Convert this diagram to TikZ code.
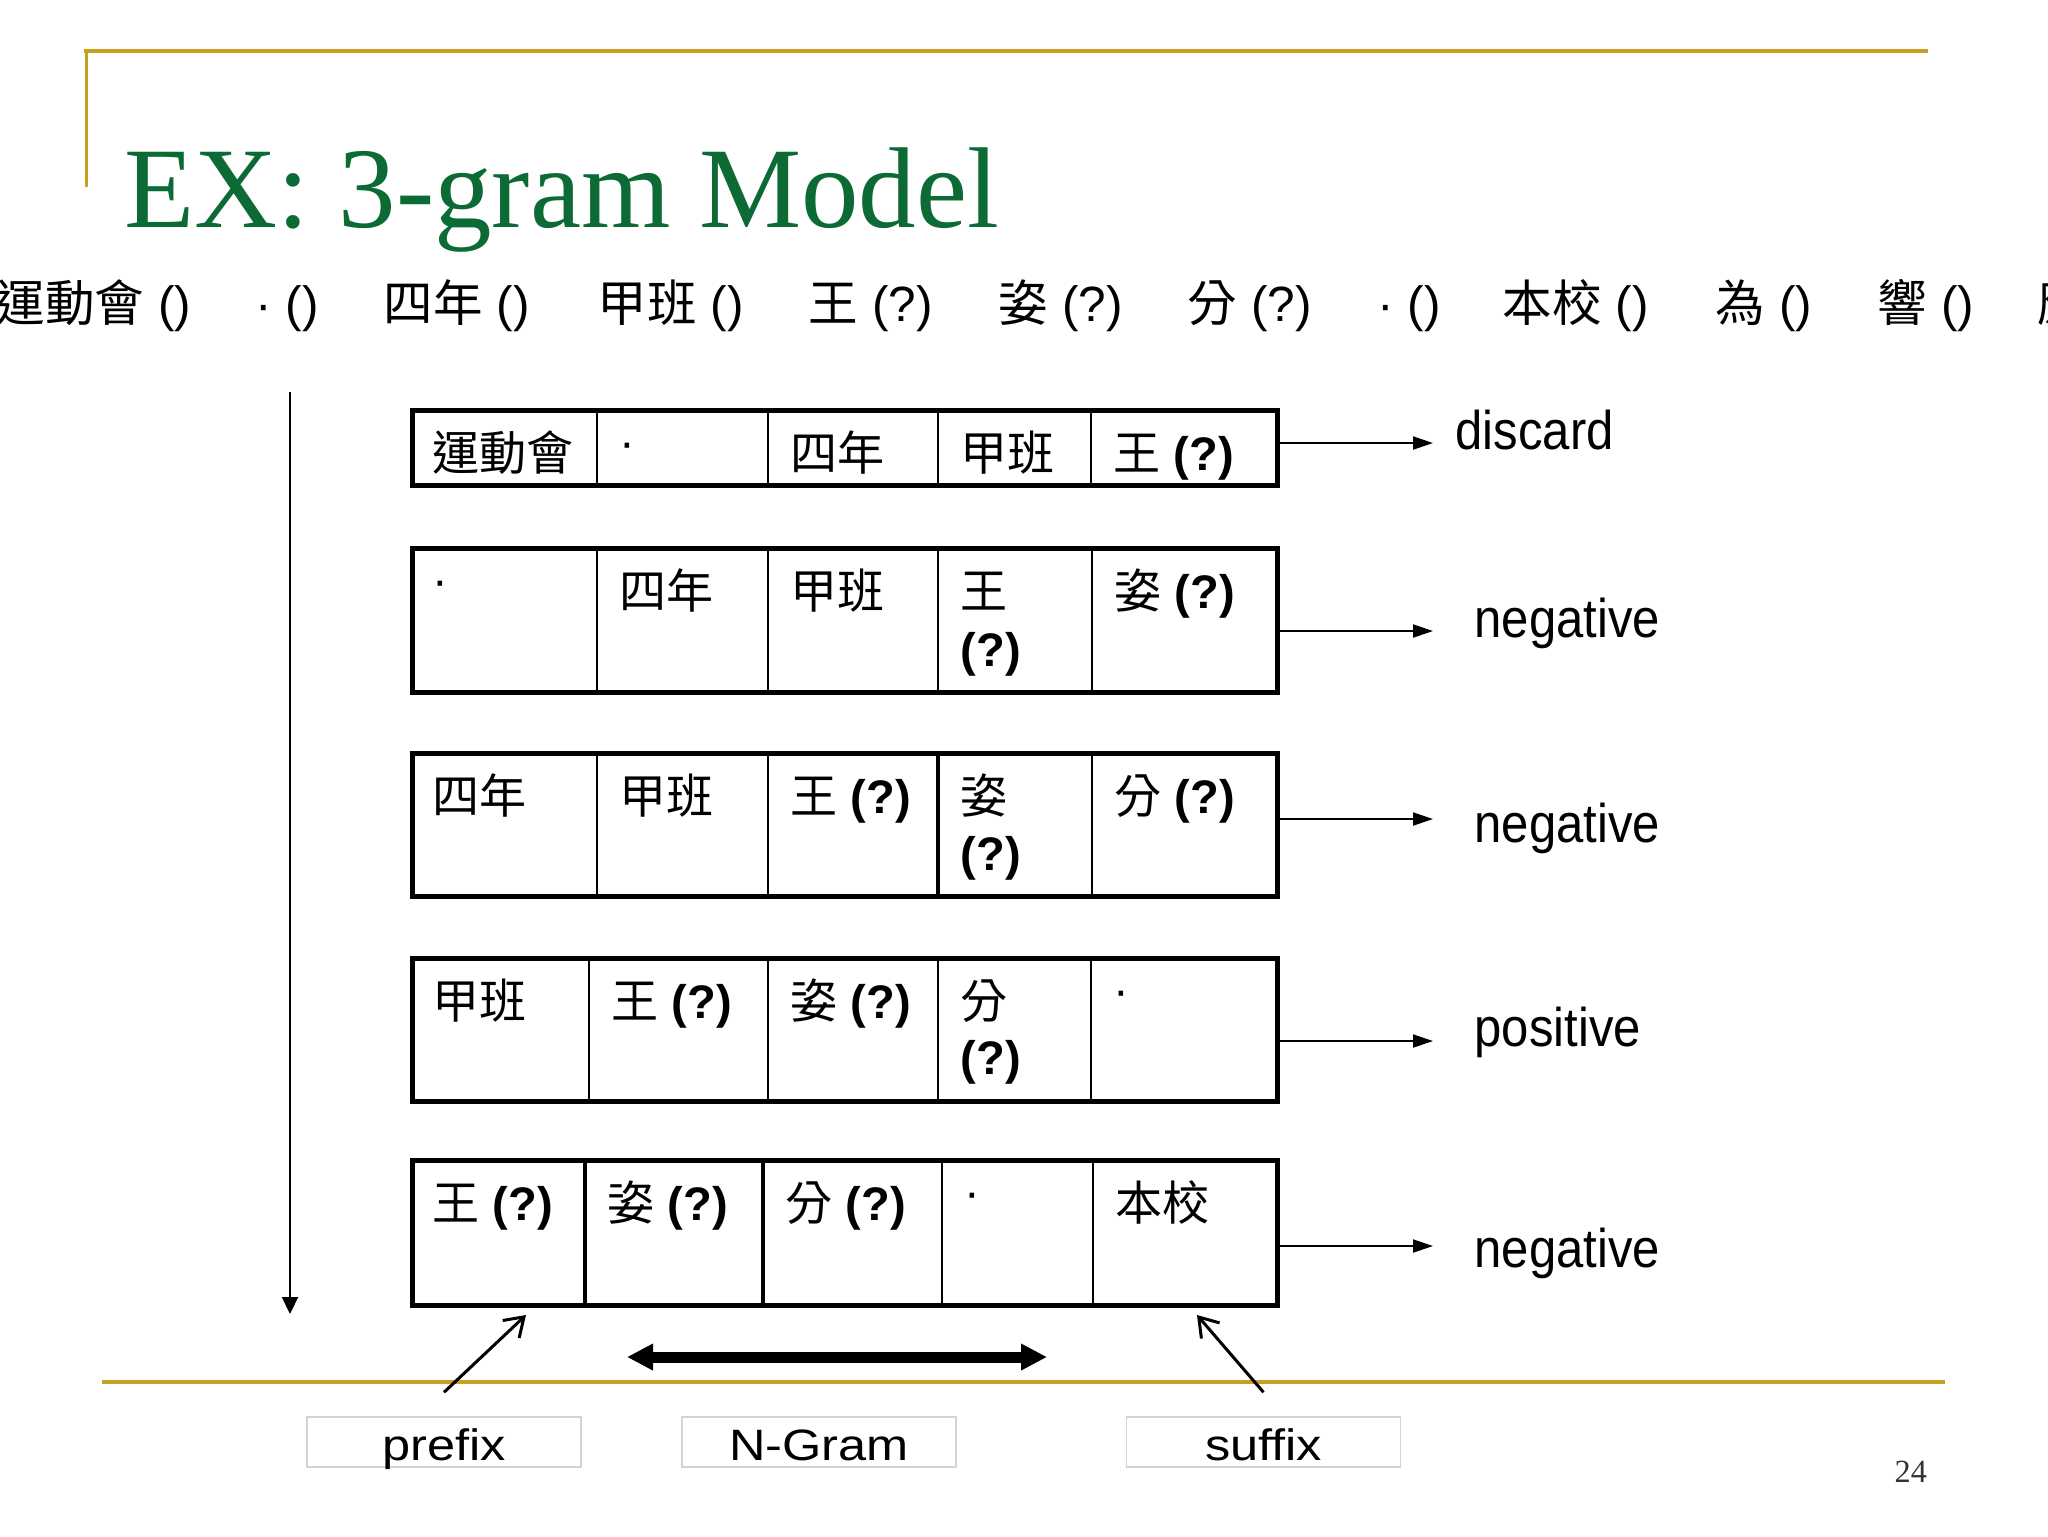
\documentclass[tikz,border=0pt]{standalone}
\usepackage{fontspec}
\setmainfont{Liberation Sans}
\newfontfamily\cjk{Noto Sans CJK TC}
\newfontfamily\titlefont{Liberation Serif}
\newfontfamily\narrowsans[FakeStretch=0.9]{Liberation Sans}
\newfontfamily\widesans[FakeStretch=1.15]{Liberation Sans}
\usetikzlibrary{arrows.meta}
\definecolor{gold}{RGB}{201,161,32}
\definecolor{titlegreen}{RGB}{12,106,52}
\definecolor{boxgray}{RGB}{212,212,212}
\newcommand{\zh}[1]{{\cjk #1}}
\newcommand{\qmark}{\textbf{(?)}}
\newcommand{\middot}{\raisebox{0.25em}{·}}

\begin{document}
\begin{tikzpicture}[x=0.1mm, y=-0.1mm,
	word/.style = {anchor=base west, inner sep=0pt, font=\fontsize{14.1pt}{17pt}\selectfont},
	cell/.style = {anchor=base west, inner sep=0pt, font=\fontsize{13.4pt}{16pt}\selectfont},
	rowbox/.style = {draw, line width=0.5mm, minimum width=86.5mm, inner sep=0pt},
	divider/.style = {line width=0.25mm},
	thickdiv/.style = {line width=0.45mm},
	result/.style = {anchor=base west, inner sep=0pt, font=\narrowsans\fontsize{15.5pt}{18pt}\selectfont},
	tag/.style = {draw=boxgray, line width=0.15mm, minimum width=27.4mm, minimum height=5mm, inner sep=0pt, text height=4.2mm, text depth=0.6mm, font=\widesans\fontsize{12.5pt}{15pt}\selectfont},
	outarrow/.style = {line width=0.2mm, -{Triangle[length=2mm, width=1.3mm]}},
	ptr/.style = {line width=0.3mm, -{Straight Barb[length=1.8mm, width=2.4mm]}}]
	\useasboundingbox (0,0) rectangle (2048,1536);
	% Frame
	\draw[gold, line width=0.45mm] (84,51) -- (1928,51);
	\draw[gold, line width=0.3mm] (86,51) -- (86,187);
	\draw[gold, line width=0.4mm] (102,1382) -- (1945,1382);
	\node[anchor=base west, inner sep=0pt, text=titlegreen, font=\titlefont\fontsize{32.7pt}{38pt}\selectfont] (title) at (124,227) {EX: 3-gram Model};
	\node[anchor=base west, inner sep=0pt, text=black!80, font=\titlefont\fontsize{9.2pt}{11pt}\selectfont] (pnum) at (1894,1482) {24};
	% Sentence
	\node[word] (w1) at (-5,321) {\zh{運動會} ()};
	\node[word] (w2) at (255,321) {· ()};
	\node[word] (w3) at (383,321) {\zh{四年} ()};
	\node[word] (w4) at (597,321) {\zh{甲班} ()};
	\node[word] (w5) at (808,321) {\zh{王} (?)};
	\node[word] (w6) at (998,321) {\zh{姿} (?)};
	\node[word] (w7) at (1187,321) {\zh{分} (?)};
	\node[word] (w8) at (1377,321) {· ()};
	\node[word] (w9) at (1502,321) {\zh{本校} ()};
	\node[word] (w10) at (1715,321) {\zh{為} ()};
	\node[word] (w11) at (1877,321) {\zh{響} ()};
	\node[word] (w12) at (2037,321) {\zh{應}};
	% Windows
	\node[rowbox, minimum height=7.5mm] (r1) at (845,448) {};
	\node[rowbox, minimum height=14.4mm] (r2) at (845,620.5) {};
	\node[rowbox, minimum height=14.3mm] (r3) at (845,825) {};
	\node[rowbox, minimum height=14.3mm] (r4) at (845,1030) {};
	\node[rowbox, minimum height=14.5mm] (r5) at (845,1233) {};
	\foreach \d in {597,768,938,1091} \draw[divider] (\d,0 |- r1.north) -- (\d,0 |- r1.south);
	\foreach \d in {597,768,938,1092} \draw[divider] (\d,0 |- r2.north) -- (\d,0 |- r2.south);
	\foreach \d in {597,768,1092} \draw[divider] (\d,0 |- r3.north) -- (\d,0 |- r3.south);
	\draw[thickdiv] (938,0 |- r3.north) -- (938,0 |- r3.south);
	\foreach \d in {589,768,938,1091} \draw[divider] (\d,0 |- r4.north) -- (\d,0 |- r4.south);
	\foreach \d in {585,763} \draw[thickdiv] (\d,0 |- r5.north) -- (\d,0 |- r5.south);
	\foreach \d in {942,1093} \draw[divider] (\d,0 |- r5.north) -- (\d,0 |- r5.south);
	% Cells
	\node[cell] (r1c1) at (432,470) {\zh{運動會}};
	\node[cell] (r1c2) at (619,470) {\middot};
	\node[cell] (r1c3) at (790,470) {\zh{四年}};
	\node[cell] (r1c4) at (960,470) {\zh{甲班}};
	\node[cell] (r1c5) at (1113,470) {\zh{王} \qmark};
	\node[cell] (r2c1) at (432,608) {\middot};
	\node[cell] (r2c2) at (619,608) {\zh{四年}};
	\node[cell] (r2c3) at (790,608) {\zh{甲班}};
	\node[cell] (r2c4) at (960,608) {\zh{王}};
	\node[cell] (r2c4b) at (960,666) {\qmark};
	\node[cell] (r2c5) at (1114,608) {\zh{姿} \qmark};
	\node[cell] (r3c1) at (432,813) {\zh{四年}};
	\node[cell] (r3c2) at (619,813) {\zh{甲班}};
	\node[cell] (r3c3) at (790,813) {\zh{王} \qmark};
	\node[cell] (r3c4) at (960,813) {\zh{姿}};
	\node[cell] (r3c4b) at (960,870) {\qmark};
	\node[cell] (r3c5) at (1114,813) {\zh{分} \qmark};
	\node[cell] (r4c1) at (432,1018) {\zh{甲班}};
	\node[cell] (r4c2) at (611,1018) {\zh{王} \qmark};
	\node[cell] (r4c3) at (790,1018) {\zh{姿} \qmark};
	\node[cell] (r4c4) at (960,1018) {\zh{分}};
	\node[cell] (r4c4b) at (960,1074) {\qmark};
	\node[cell] (r4c5) at (1113,1018) {\middot};
	\node[cell] (r5c1) at (432,1220) {\zh{王} \qmark};
	\node[cell] (r5c2) at (607,1220) {\zh{姿} \qmark};
	\node[cell] (r5c3) at (785,1220) {\zh{分} \qmark};
	\node[cell] (r5c4) at (964,1220) {\middot};
	\node[cell] (r5c5) at (1115,1220) {\zh{本校}};
	% Results
	\coordinate (e1) at (1433,443);
	\coordinate (e2) at (1433,631);
	\coordinate (e3) at (1433,819);
	\coordinate (e4) at (1433,1041);
	\coordinate (e5) at (1433,1246);
	\node[result] (lab1) at (1455,449) {discard};
	\node[result] (lab2) at (1474,637) {negative};
	\node[result] (lab3) at (1474,842) {negative};
	\node[result] (lab4) at (1474,1046) {positive};
	\node[result] (lab5) at (1474,1267) {negative};
	\draw[outarrow] (r1.east |- e1) -- (e1);	% r1
	\draw[outarrow] (r2.east |- e2) -- (e2);	% r2
	\draw[outarrow] (r3.east |- e3) -- (e3);	% r3
	\draw[outarrow] (r4.east |- e4) -- (e4);	% r4
	\draw[outarrow] (r5.east |- e5) -- (e5);	% r5
	% Sliding direction
	\coordinate (ttop) at (290,392);
	\coordinate (tbot) at (290,1314);
	\draw[line width=0.2mm, -{Triangle[length=1.7mm, width=1.6mm]}] (ttop) -- (tbot);
	% Bottom tags
	\node[tag] (pfx) at (444,1442) {prefix};
	\node[tag] (ngram) at (819,1442) {N-Gram};
	\node[tag] (sfx) at (1263.5,1442) {suffix};
	\coordinate (pt1) at (526,1315);
	\coordinate (st1) at (1197,1315);
	\coordinate (ng1) at (627,1357);
	\coordinate (ng2) at (1047,1357);
	\draw[ptr] ([yshift=2.4mm]pfx.north) -- (pt1);	% prefix
	\draw[ptr] ([yshift=2.4mm]sfx.north) -- (st1);	% suffix
	\draw[line width=1.1mm, {Triangle[length=2.6mm, width=2.5mm]}-{Triangle[length=2.6mm, width=2.5mm]}] (ng1) -- (ng2);	% n-gram
\end{tikzpicture}
\end{document}
